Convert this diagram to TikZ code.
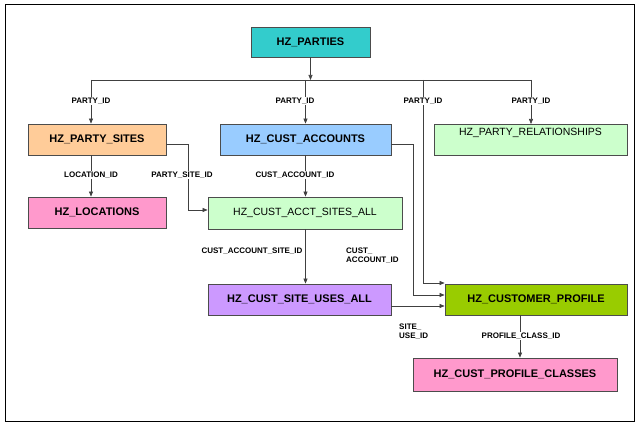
\documentclass[tikz,border=0pt]{standalone}
\usepackage{fontspec}
\setmainfont{Liberation Sans}
\usetikzlibrary{arrows.meta}
\definecolor{cParties}{HTML}{33CCCC}
\definecolor{cSites}{HTML}{FFCC99}
\definecolor{cAcc}{HTML}{99CCFF}
\definecolor{cGreen}{HTML}{CCFFCC}
\definecolor{cPink}{HTML}{FF99CC}
\definecolor{cPurple}{HTML}{CC99FF}
\definecolor{cProf}{HTML}{99CC00}
\begin{document}
\begin{tikzpicture}[x=1pt,y=-1pt,
  box/.style={draw=black!70,line width=0.8pt,inner sep=0pt,font=\fontsize{11}{12}\selectfont\bfseries},
  lbl/.style={fill=white,inner sep=1pt,font=\fontsize{8}{9}\selectfont\bfseries,align=left},
  con/.style={draw=black!75,line width=0.6pt},
  arr/.style={con,-{Triangle[length=5pt,width=4pt]}}]
\useasboundingbox (0,0) rectangle (640,427);
\draw[line width=1pt] (5,5) rectangle (634,422);
\node[box,fill=cParties,minimum width=119,minimum height=30] (parties) at (310.5,42) {HZ\_PARTIES};
\node[box,fill=cSites,minimum width=138,minimum height=31] (psites) at (97,139.5) {HZ\_PARTY\_SITES};
\node[box,fill=cAcc,minimum width=171,minimum height=31] (acc) at (305.5,139.5) {HZ\_CUST\_ACCOUNTS};
\node[box,fill=cGreen,minimum width=193,minimum height=31,font=\fontsize{10.5}{12}\selectfont,anchor=north,text depth=16pt] (rel) at (530.5,124) {HZ\_PARTY\_RELATIONSHIPS};
\node[box,fill=cPink,minimum width=138,minimum height=31] (loc) at (97,212.5) {HZ\_LOCATIONS};
\node[box,fill=cGreen,minimum width=194,minimum height=32,font=\fontsize{10.5}{12}\selectfont] (asites) at (305,213) {HZ\_CUST\_ACCT\_SITES\_ALL};
\node[box,fill=cPurple,minimum width=183,minimum height=31] (uses) at (299.5,299.5) {HZ\_CUST\_SITE\_USES\_ALL};
\node[box,fill=cProf,minimum width=182,minimum height=31] (prof) at (536,299.5) {HZ\_CUSTOMER\_PROFILE};
\node[box,fill=cPink,minimum width=204,minimum height=33] (pcls) at (515,374.5) {HZ\_CUST\_PROFILE\_CLASSES};
% top tree
\coordinate (jL) at (91,80);
\coordinate (jR) at (531,80);
\coordinate (jM) at (parties.south |- jL);
\coordinate (jA) at (acc.north |- jL);
\coordinate (jP) at (423,80);
\coordinate (jPb) at (423,283);
\draw[arr] (parties) -- (jM);
\draw[con] (jL) -- (jR);
\draw[arr] (jL) -- (jL |- psites.north);
\draw[arr] (jA) -- (acc);
\draw[arr] (jR) -- (jR |- rel.north);
\draw[arr] (jP) -- (jPb) -- (jPb -| prof.west);
\node[lbl] (l1) at (91,101) {PARTY\_ID};
\node[lbl] (l2) at (295,101) {PARTY\_ID};
\node[lbl] (l3) at (423,101) {PARTY\_ID};
\node[lbl] (l4) at (531,101) {PARTY\_ID};
% level 2
\draw[arr] (psites.south -| jL) -- (loc.north -| jL);
\node[lbl] (l5) at (91,175) {LOCATION\_ID};
\coordinate (ps1) at (188,144);
\coordinate (ps2) at (188,210);
\draw[arr] (psites.east |- ps1) -- (ps1) -- (ps2) -- (ps2 -| asites.west);
\node[lbl] (l6) at (182,175) {PARTY\_SITE\_ID};
\draw[arr] (acc.south -| jA) -- (asites.north -| jA);
\node[lbl] (l7) at (295,175) {CUST\_ACCOUNT\_ID};
\coordinate (ca1) at (413,144);
\coordinate (ca2) at (413,295);
\draw[arr] (acc.east |- ca1) -- (ca1) -- (ca2) -- (ca2 -| prof.west);
\node[lbl,fill=none,anchor=west] (l8) at (345,256) {CUST\_\\ACCOUNT\_ID};
\draw[arr] (asites.south -| jA) -- (uses.north -| jA);
\node[lbl] (l9) at (252,251) {CUST\_ACCOUNT\_SITE\_ID};
\coordinate (su) at (391,306);
\draw[arr] (su) -- (su -| prof.west);
\node[lbl,fill=none,anchor=west] (l10) at (398,332) {SITE\_\\USE\_ID};
\coordinate (pc) at (520,315);
\draw[arr] (pc) -- (pc |- pcls.north);
\node[lbl] (l11) at (521,336) {PROFILE\_CLASS\_ID};
\end{tikzpicture}
\end{document}
